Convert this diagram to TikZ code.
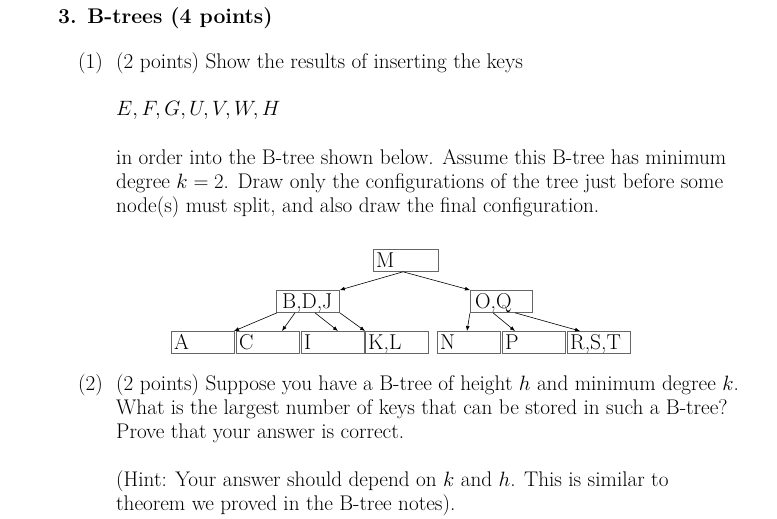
\documentclass[tikz,border=0pt]{standalone}
\usetikzlibrary{arrows.meta}
\begin{document}
\begin{tikzpicture}[x=1pt,y=-1pt,
  txt/.style={anchor=base west,inner sep=0pt,font=\fontsize{21.2}{24}\selectfont},
  bx/.style={draw=black!60,line width=0.8pt,minimum width=#1,minimum height=22,inner sep=0pt,anchor=north west},
  lbl/.style={anchor=base west,inner sep=0pt,font=\fontsize{21.5}{24}\selectfont},
  arr/.style={-{Latex[length=5pt,width=4pt]},line width=0.6pt}]
\useasboundingbox (0,0) rectangle (777,519);
\node[txt,font=\fontsize{21.2}{24}\selectfont\bfseries] (t0) at (58,24) {3. B-trees (4 points)};
\node[txt] (t1a) at (78,69) {(1)};
\node[txt] (t1) at (116,69) {(2 points) Show the results of inserting the keys};
\node[txt] (t2) at (116,116) {$E,F,G,U,V,W,H$};
\node[txt] (t3) at (116,164) {in order into the B-tree shown below. Assume this B-tree has minimum};
\node[txt] (t4) at (116,188) {degree $k=2$. Draw only the configurations of the tree just before some};
\node[txt] (t5) at (116,212) {node(s) must split, and also draw the final configuration.};
\node[txt] (u1a) at (78,390) {(2)};
\node[txt] (u1) at (116,390) {(2 points) Suppose you have a B-tree of height $h$ and minimum degree $k$.};
\node[txt] (u2) at (116,414) {What is the largest number of keys that can be stored in such a B-tree?};
\node[txt] (u3) at (116,438) {Prove that your answer is correct.};
\node[txt] (u4) at (116,486) {(Hint: Your answer should depend on $k$ and $h$. This is similar to};
\node[txt] (u5) at (116,510) {theorem we proved in the B-tree notes).};
% tree
\node[bx=65] (M) at (373,249) {};
\node[bx=63] (BDJ) at (276,290) {};
\node[bx=62] (OQ) at (470,290) {};
\foreach \n/\x in {A/171,C/236,I/301,KL/365,N/437,P/502,RST/567}
  \node[bx=63] (\n) at (\x,331) {};
\node[lbl] at ([xshift=3,yshift=-18]M.north west) {M};
\node[lbl] at ([xshift=6,yshift=-18]BDJ.north west) {B,D,J};
\node[lbl] at ([xshift=5,yshift=-18]OQ.north west) {O,Q};
\foreach \n/\t in {A/A,C/C,I/I,KL/{K,L},N/N,P/P,RST/{R,S,T}}
  \node[lbl] at ([xshift=3,yshift=-18]\n.north west) {\t};
\draw[arr] ([xshift=30]M.south west) -- (BDJ.north east);
\draw[arr] ([xshift=30]M.south west) -- (OQ.north west);
\draw[arr] ([xshift=1]BDJ.south west) -- ([xshift=-2]C.north west);
\draw[arr] ([xshift=19]BDJ.south west) -- ([xshift=46]C.north west);
\draw[arr] ([xshift=39]BDJ.south west) -- ([xshift=37]I.north west);
\draw[arr] (BDJ.south east) -- (KL.north west);
\draw[arr] (OQ.south west) -- ([xshift=30]N.north west);
\draw[arr] ([xshift=23]OQ.south west) -- ([xshift=13]P.north west);
\draw[arr] ([xshift=45]OQ.south west) -- ([xshift=13]RST.north west);
\end{tikzpicture}
\end{document}
